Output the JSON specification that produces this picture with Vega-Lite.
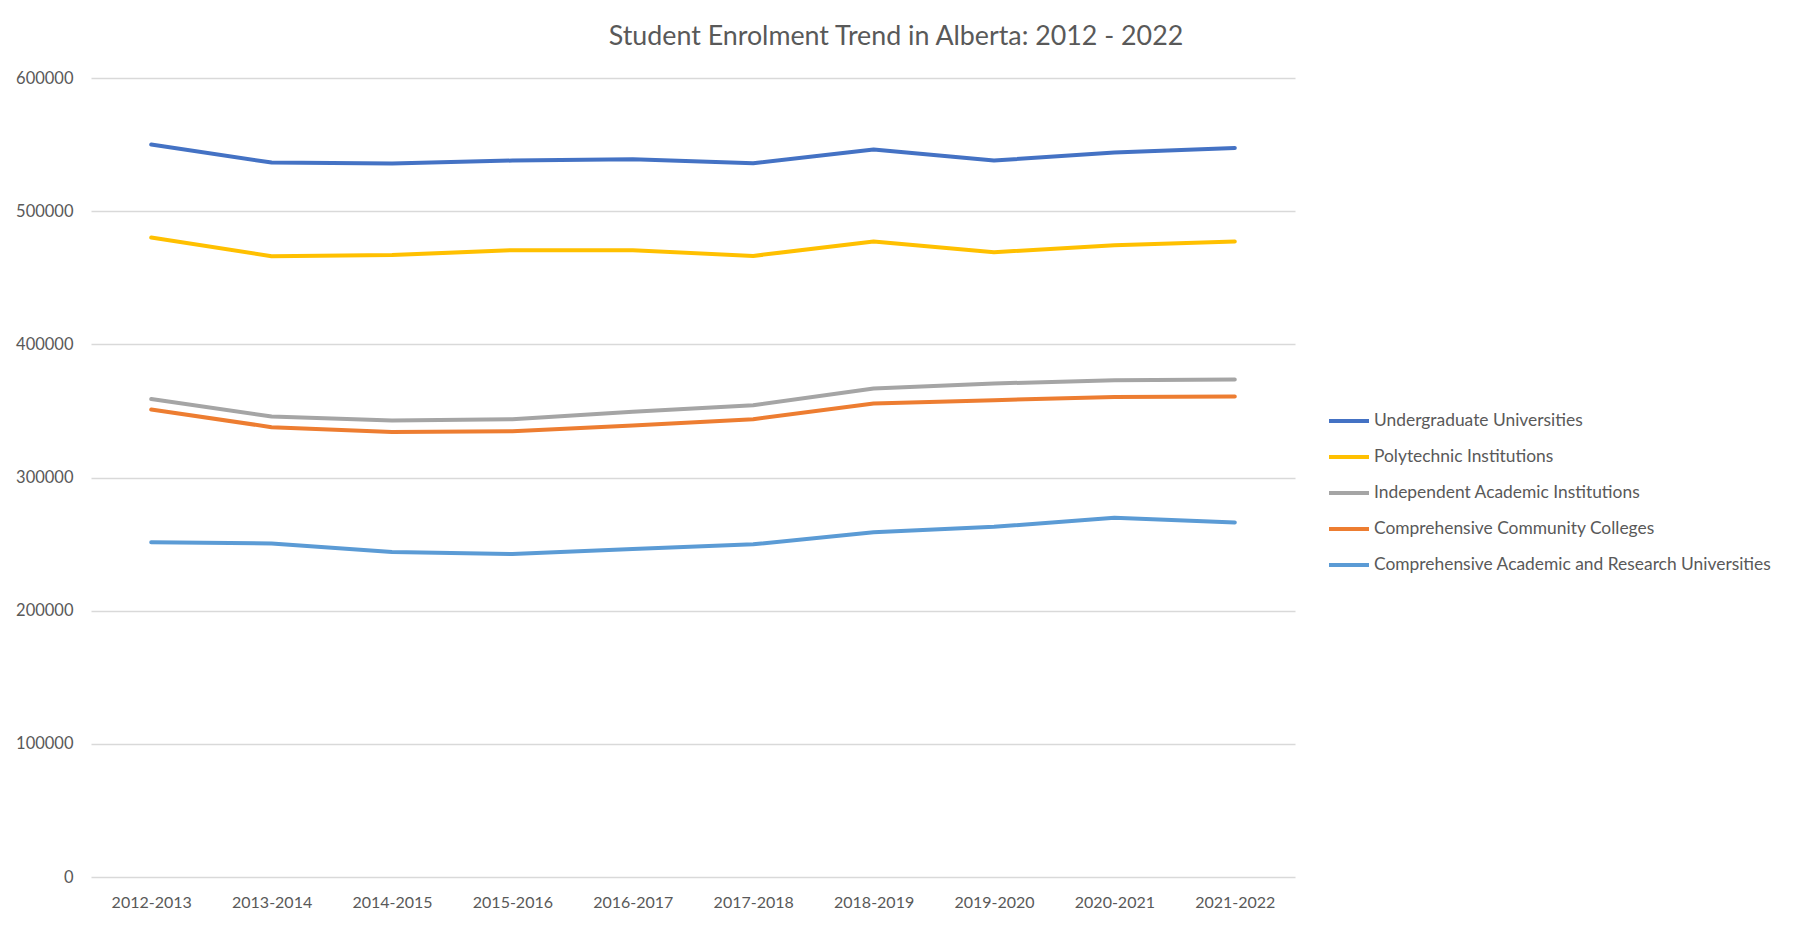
{
  "$schema": "https://vega.github.io/schema/vega-lite/v6.json",
  "autosize": "none",
  "width": 1204,
  "height": 799,
  "padding": {"left": 91, "top": 78, "right": 498, "bottom": 50},
  "background": "white",
  "title": {
    "text": "Student Enrolment Trend in Alberta: 2012 - 2022",
    "anchor": "middle",
    "frame": "group",
    "dx": 203,
    "offset": 19,
    "font": "Lato",
    "fontSize": 26.8,
    "fontWeight": "normal",
    "color": "#595959"
  },
  "data": {
    "values": [
      {"year": "2012-2013", "type": "Undergraduate Universities", "enrolment": 550000},
      {"year": "2013-2014", "type": "Undergraduate Universities", "enrolment": 536500},
      {"year": "2014-2015", "type": "Undergraduate Universities", "enrolment": 535800},
      {"year": "2015-2016", "type": "Undergraduate Universities", "enrolment": 538000},
      {"year": "2016-2017", "type": "Undergraduate Universities", "enrolment": 539000},
      {"year": "2017-2018", "type": "Undergraduate Universities", "enrolment": 536000},
      {"year": "2018-2019", "type": "Undergraduate Universities", "enrolment": 546300},
      {"year": "2019-2020", "type": "Undergraduate Universities", "enrolment": 538000},
      {"year": "2020-2021", "type": "Undergraduate Universities", "enrolment": 544000},
      {"year": "2021-2022", "type": "Undergraduate Universities", "enrolment": 547500},
      {"year": "2012-2013", "type": "Polytechnic Institutions", "enrolment": 480200},
      {"year": "2013-2014", "type": "Polytechnic Institutions", "enrolment": 466200},
      {"year": "2014-2015", "type": "Polytechnic Institutions", "enrolment": 467000},
      {"year": "2015-2016", "type": "Polytechnic Institutions", "enrolment": 470700},
      {"year": "2016-2017", "type": "Polytechnic Institutions", "enrolment": 470700},
      {"year": "2017-2018", "type": "Polytechnic Institutions", "enrolment": 466400},
      {"year": "2018-2019", "type": "Polytechnic Institutions", "enrolment": 477200},
      {"year": "2019-2020", "type": "Polytechnic Institutions", "enrolment": 469200},
      {"year": "2020-2021", "type": "Polytechnic Institutions", "enrolment": 474400},
      {"year": "2021-2022", "type": "Polytechnic Institutions", "enrolment": 477200},
      {"year": "2012-2013", "type": "Independent Academic Institutions", "enrolment": 358900},
      {"year": "2013-2014", "type": "Independent Academic Institutions", "enrolment": 345800},
      {"year": "2014-2015", "type": "Independent Academic Institutions", "enrolment": 342800},
      {"year": "2015-2016", "type": "Independent Academic Institutions", "enrolment": 343800},
      {"year": "2016-2017", "type": "Independent Academic Institutions", "enrolment": 349400},
      {"year": "2017-2018", "type": "Independent Academic Institutions", "enrolment": 354300},
      {"year": "2018-2019", "type": "Independent Academic Institutions", "enrolment": 366900},
      {"year": "2019-2020", "type": "Independent Academic Institutions", "enrolment": 370600},
      {"year": "2020-2021", "type": "Independent Academic Institutions", "enrolment": 373100},
      {"year": "2021-2022", "type": "Independent Academic Institutions", "enrolment": 373600},
      {"year": "2012-2013", "type": "Comprehensive Community Colleges", "enrolment": 351100},
      {"year": "2013-2014", "type": "Comprehensive Community Colleges", "enrolment": 337800},
      {"year": "2014-2015", "type": "Comprehensive Community Colleges", "enrolment": 334100},
      {"year": "2015-2016", "type": "Comprehensive Community Colleges", "enrolment": 334800},
      {"year": "2016-2017", "type": "Comprehensive Community Colleges", "enrolment": 339100},
      {"year": "2017-2018", "type": "Comprehensive Community Colleges", "enrolment": 343800},
      {"year": "2018-2019", "type": "Comprehensive Community Colleges", "enrolment": 355600},
      {"year": "2019-2020", "type": "Comprehensive Community Colleges", "enrolment": 358100},
      {"year": "2020-2021", "type": "Comprehensive Community Colleges", "enrolment": 360400},
      {"year": "2021-2022", "type": "Comprehensive Community Colleges", "enrolment": 360900},
      {"year": "2012-2013", "type": "Comprehensive Academic and Research Universities", "enrolment": 251300},
      {"year": "2013-2014", "type": "Comprehensive Academic and Research Universities", "enrolment": 250500},
      {"year": "2014-2015", "type": "Comprehensive Academic and Research Universities", "enrolment": 244000},
      {"year": "2015-2016", "type": "Comprehensive Academic and Research Universities", "enrolment": 242500},
      {"year": "2016-2017", "type": "Comprehensive Academic and Research Universities", "enrolment": 246400},
      {"year": "2017-2018", "type": "Comprehensive Academic and Research Universities", "enrolment": 249800},
      {"year": "2018-2019", "type": "Comprehensive Academic and Research Universities", "enrolment": 258800},
      {"year": "2019-2020", "type": "Comprehensive Academic and Research Universities", "enrolment": 263000},
      {"year": "2020-2021", "type": "Comprehensive Academic and Research Universities", "enrolment": 269700},
      {"year": "2021-2022", "type": "Comprehensive Academic and Research Universities", "enrolment": 266300}
    ]
  },
  "mark": {"type": "line", "strokeWidth": 4, "strokeCap": "round", "strokeJoin": "round"},
  "encoding": {
    "x": {
      "field": "year",
      "type": "ordinal",
      "scale": {"type": "point", "padding": 0.5},
      "axis": {
        "title": null,
        "labelAngle": 0,
        "ticks": false,
        "domain": false,
        "grid": false,
        "labelPadding": 17,
        "labelFont": "Lato",
        "labelFontSize": 16,
        "labelColor": "#595959"
      }
    },
    "y": {
      "field": "enrolment",
      "type": "quantitative",
      "scale": {"domain": [0, 600000], "nice": false},
      "axis": {
        "title": null,
        "values": [0, 100000, 200000, 300000, 400000, 500000, 600000],
        "format": "d",
        "ticks": false,
        "domain": false,
        "grid": true,
        "gridColor": "#D9D9D9",
        "gridWidth": 1.5,
        "labelPadding": 18,
        "labelFont": "Lato",
        "labelFontSize": 16.5,
        "labelColor": "#595959"
      }
    },
    "color": {
      "field": "type",
      "type": "nominal",
      "scale": {
        "domain": ["Undergraduate Universities", "Polytechnic Institutions", "Independent Academic Institutions", "Comprehensive Community Colleges", "Comprehensive Academic and Research Universities"],
        "range": ["#4472C4", "#FFC000", "#A5A5A5", "#ED7D31", "#5B9BD5"]
      },
      "legend": {
        "title": null,
        "orient": "none",
        "legendX": 1236,
        "legendY": 321,
        "symbolType": "stroke",
        "symbolStrokeWidth": 4,
        "symbolSize": 1600,
        "labelFont": "Lato",
        "labelFontSize": 17.4,
        "labelColor": "#595959",
        "labelOffset": 3,
        "labelLimit": 0,
        "rowPadding": 5
      }
    }
  },
  "config": {"view": {"stroke": null}}
}
